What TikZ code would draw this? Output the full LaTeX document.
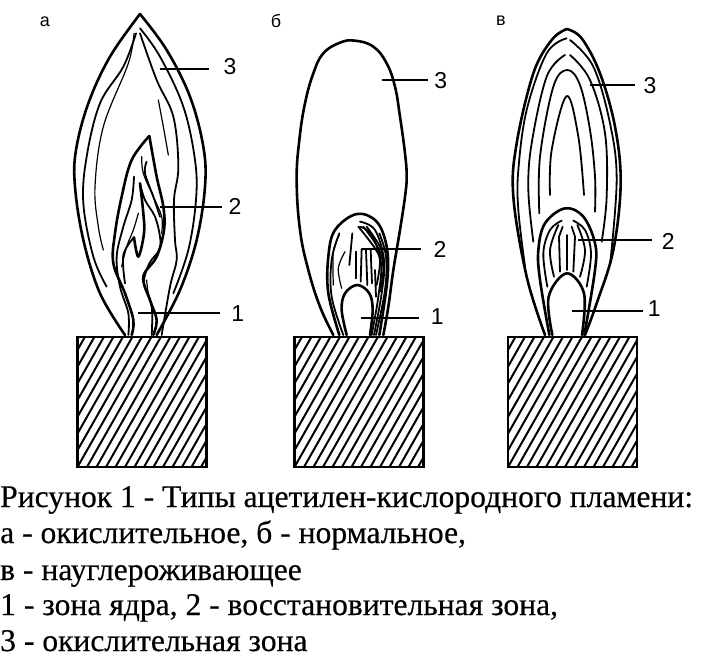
\documentclass[tikz,border=0pt]{standalone}
\usepackage{fontspec}
\setmainfont{Liberation Serif}
\newfontfamily\capfont[FakeBold=0.4]{Liberation Serif}
\newfontfamily\labelfont{Liberation Sans}
\tikzset{
  edge1/.style={line width=2.6pt, line cap=round, line join=round},
  edge2/.style={line width=1.8pt, line cap=round, line join=round},
  edge3/.style={line width=1.2pt, line cap=round},
  lead/.style={line width=1.8pt},
  numlabel/.style={font=\labelfont\fontsize{23}{23}\selectfont, inner sep=0pt},
  letter/.style={font=\labelfont\fontsize{18}{18}\selectfont, inner sep=0pt},
  capline/.style={font=\capfont\fontsize{31.6}{36}\selectfont, anchor=base west, inner sep=0pt},
  burner/.style={rectangle, draw=black, line width=2.6pt, minimum width=129pt, minimum height=130pt, inner sep=0pt,
    path picture={
      \foreach \i in {-76,-66.5,...,132}
        \draw[line width=2pt] (path picture bounding box.south west) ++(\i,0) -- ++(75,-132);
    }},
}
\begin{document}
\begin{tikzpicture}[x=1pt, y=-1pt]
  \useasboundingbox (0,0) rectangle (703,662);

  \node[burner, name=boxa] at (142,402) {};
  \node[burner, name=boxb] at (359,402) {};
  \node[burner, name=boxc] at (572.5,402) {};

  \node[letter, name=lettera] at (45,22) {а};
  \node[letter, name=letterb] at (276,21) {б};
  \node[letter, name=letterc] at (501,21) {в};

  % flame a
  \begin{scope}[shift={(60,0)}, scale=1/3]
    \draw[edge1] plot[smooth, tension=.6] coordinates {(240,42) (150,170) (85,310) (48,450) (45,560) (70,720) (120,880) (195,1005)};
    \draw[edge1] plot[smooth, tension=.6] coordinates {(240,42) (320,150) (390,290) (430,440) (435,560) (410,720) (360,870) (290,1005)};
    \draw[edge2] plot[smooth, tension=.6] coordinates {(228,100) (190,200) (120,310) (80,470) (70,610) (100,770) (140,860)};
    \draw[edge2] plot[smooth, tension=.6] coordinates {(240,85) (300,170) (370,320) (405,480) (408,600) (385,750) (340,880)};
    \draw[edge3] plot[smooth, tension=.6] coordinates {(222,100) (205,190) (130,380) (105,560) (115,680) (130,750)};
    \draw[edge2] plot[smooth, tension=.6] coordinates {(240,100) (290,240) (340,350) (355,500) (342,600) (345,720) (350,780) (330,860) (305,1005)};
    \draw[edge3] plot[smooth, tension=.6] coordinates {(295,300) (310,380) (325,465)};
    % inner part
    \draw[edge1] plot[smooth, tension=.6] coordinates {(268,408) (215,480) (185,590) (165,700) (160,790) (195,880) (220,960) (215,1005)};
    \draw[edge1] plot[smooth, tension=.6] coordinates {(268,408) (290,530) (310,620) (312,690) (290,770) (250,830) (270,900) (290,960) (280,1005)};
    \draw[edge2] plot[smooth, tension=.6] coordinates {(205,1005) (205,940) (180,860) (170,770) (190,680) (215,600) (222,530)};
    \draw[edge3] plot[smooth, tension=.6] coordinates {(235,640) (220,690) (200,740) (185,800)};
    \draw[edge1] plot[smooth, tension=.6] coordinates {(240,550) (250,640) (252,700) (235,770) (222,712)};
    \draw[edge2] plot[smooth, tension=.6] coordinates {(222,712) (190,765) (195,850)};
    \draw[edge2] plot[smooth, tension=.6] coordinates {(240,550) (255,600) (285,650) (300,710) (298,750) (268,790) (252,850) (275,920) (275,1005)};
    \draw[edge2] plot[smooth, tension=.6] coordinates {(260,485) (255,520) (280,590) (300,650)};
    \draw[edge3] plot[smooth, tension=.6] coordinates {(245,470) (250,520) (280,590) (305,650) (305,700)};
    \draw[edge3] plot[smooth, tension=.6] coordinates {(260,840) (265,880) (280,930)};
    \coordinate (a3) at (300,207); \coordinate (a2) at (300,620); \coordinate (a1) at (235,940);
    \node[numlabel, name=na3] at (510,200) {3};
    \node[numlabel, name=na2] at (525,620) {2};
    \node[numlabel, name=na1] at (533,942) {1};
    \draw[lead] (a3) -- ([xshift=-42pt]na3.west |- a3);
    \draw[lead] (a2) -- ([xshift=-19pt]na2.west |- a2);
    \draw[lead] (a1) -- ([xshift=-32pt]na1.west |- a1);
  \end{scope}

  % flame b
  \begin{scope}[shift={(280,30)}, scale=1/3]
    \draw[edge1] plot[smooth, tension=.7] coordinates {(160,915) (120,830) (85,720) (60,600) (50,450) (58,330) (75,220) (100,130) (130,70) (180,38) (225,32) (280,50) (320,100) (345,170) (360,260) (375,370) (380,440) (375,500) (360,600) (340,720) (325,830) (310,915)};
    \draw[edge1] plot[smooth, tension=.6] coordinates {(178,915) (145,790) (145,680) (165,600) (230,552) (290,575) (320,650) (322,750) (298,915)};
    \draw[edge1] plot[smooth, tension=.6] coordinates {(200,915) (185,840) (195,790) (232,765) (268,790) (278,840) (270,915)};
    \draw[edge2] plot[smooth, tension=.6] coordinates {(190,915) (155,800) (155,690) (178,610)};
    \draw[edge2] plot[smooth, tension=.6] coordinates {(282,915) (305,790) (312,690) (285,600) (240,575)};
    \draw[edge2] plot[smooth, tension=.6] coordinates {(275,915) (295,800) (303,700) (275,615) (240,590)};
    \draw[edge2] plot[smooth, tension=.6] coordinates {(288,915) (315,780) (318,680) (298,610)};
    \draw[edge2] plot[smooth, tension=.6] coordinates {(250,590) (295,655) (310,715) (300,785)};
    \draw[edge2] plot[smooth, tension=.6] coordinates {(260,590) (300,650) (312,700)};
    \draw[edge2] plot[smooth, tension=.6] coordinates {(235,590) (285,655) (300,695) (290,765)};
    \draw[edge3] plot[smooth, tension=.6] coordinates {(178,615) (160,665) (160,765)};
    \draw[edge3] plot[smooth, tension=.6] coordinates {(195,665) (175,715) (185,775)};
    \draw[edge2] (217,610) -- (208,705);
    \draw[edge2] (228,665) -- (228,745);
    \draw[edge2] (245,657) -- (242,755);
    \draw[edge2] (258,660) -- (262,765);
    \draw[edge2] (272,660) -- (276,760);
    \draw[edge2] (285,720) -- (288,800);
    \coordinate (b3) at (307,150); \coordinate (b2) at (245,657); \coordinate (b1) at (242,865);
    \node[numlabel, name=nb3] at (482,152) {3};
    \node[numlabel, name=nb2] at (480,657) {2};
    \node[numlabel, name=nb1] at (472,860) {1};
    \draw[lead] (b3) -- ([xshift=-19pt]nb3.west |- b3);
    \draw[lead] (b2) -- ([xshift=-37pt]nb2.west |- b2);
    \draw[lead] (b1) -- ([xshift=-34pt]nb1.west |- b1);
  \end{scope}

  % flame c
  \begin{scope}[shift={(490,10)}, scale=1/3]
    \draw[edge1] plot[smooth, tension=.6] coordinates {(165,975) (110,800) (70,560) (80,400) (130,190) (185,90) (230,57)};
    \draw[edge1] plot[smooth, tension=.6] coordinates {(230,57) (275,85) (330,190) (375,350) (392,520) (370,720) (320,880) (285,975)};
    \draw[edge2] plot[smooth, tension=.6] coordinates {(105,770) (85,600) (85,480) (110,300) (170,130) (230,85)};
    \draw[edge2] plot[smooth, tension=.6] coordinates {(240,90) (310,170) (360,340) (380,510) (360,765)};
    \draw[edge2] plot[smooth, tension=.6] coordinates {(130,695) (115,540) (125,400) (170,200) (225,135)};
    \draw[edge2] plot[smooth, tension=.6] coordinates {(240,135) (300,210) (345,370) (350,560) (335,695)};
    \draw[edge2] plot[smooth, tension=.6] coordinates {(148,610) (150,440) (190,230) (232,180) (270,225) (300,360) (315,500) (315,605)};
    \draw[edge2] plot[smooth, tension=.6] coordinates {(180,555) (185,420) (230,258) (265,380) (282,555)};
    % dome
    \draw[edge1] plot[smooth, tension=.6] coordinates {(178,975) (150,810) (145,720) (165,640) (225,595) (280,620) (315,700) (315,780) (283,975)};
    \draw[edge1] plot[smooth, tension=.6] coordinates {(187,975) (176,860) (230,790) (282,850) (276,975)};
    \draw[edge2] plot[smooth, tension=.6] coordinates {(172,830) (160,730) (180,660) (215,632)};
    \draw[edge2] plot[smooth, tension=.6] coordinates {(290,830) (303,730) (285,660) (250,632)};
    \draw[edge2] plot[smooth, tension=.6] coordinates {(192,800) (180,720) (205,645)};
    \draw[edge2] plot[smooth, tension=.6] coordinates {(270,800) (285,720) (262,645)};
    \draw[edge2] (210,785) -- (207,680) -- (218,650);
    \draw[edge2] (250,785) -- (255,680) -- (245,650);
    \draw[edge2] (230,780) -- (230,675);
    \coordinate (c3) at (300,225); \coordinate (c2) at (265,690); \coordinate (c1) at (247,903);
    \node[numlabel, name=nc3] at (480,227) {3};
    \node[numlabel, name=nc2] at (535,693) {2};
    \node[numlabel, name=nc1] at (493,897) {1};
    \draw[lead] (c3) -- ([xshift=-25pt]nc3.west |- c3);
    \draw[lead] (c2) -- ([xshift=-30pt]nc2.west |- c2);
    \draw[lead] (c1) -- ([xshift=-13pt]nc1.west |- c1);
  \end{scope}

  \node[capline, name=cap1] at (0,507) {Рисунок 1 - Типы ацетилен-кислородного пламени:};
  \node[capline, name=cap2] at (0,543) {а - окислительное, б - нормальное,};
  \node[capline, name=cap3] at (0,580) {в - науглероживающее};
  \node[capline, name=cap4] at (0,615) {1 - зона ядра, 2 - восстановительная зона,};
  \node[capline, name=cap5] at (0,651) {3 - окислительная зона};
\end{tikzpicture}
\end{document}
